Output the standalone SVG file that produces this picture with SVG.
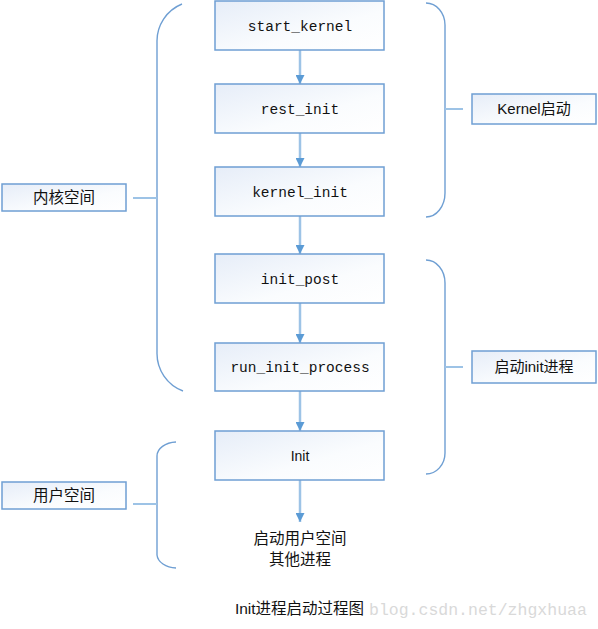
<svg xmlns="http://www.w3.org/2000/svg" width="598" height="629" viewBox="0 0 598 629">
<defs>
<linearGradient id="g" x1="0" y1="0" x2="1" y2="1">
<stop offset="0" stop-color="#e6edf8"/>
<stop offset="0.6" stop-color="#fafcfe"/>
<stop offset="1" stop-color="#ffffff"/>
</linearGradient>
<marker id="ah" viewBox="0 0 10 10" refX="10" refY="5" markerWidth="9" markerHeight="9" markerUnits="userSpaceOnUse" orient="auto">
<path d="M0,0 L10,5 L0,10 z" fill="#5b9bd5"/>
</marker>
<style>
.box{fill:url(#g);stroke:#6f9fd3;stroke-width:1.5}
.mono{font-family:"Liberation Mono","DejaVu Sans Mono",monospace;font-size:14.5px;fill:#111;text-anchor:middle}
.cjk{font-family:"Liberation Sans","Noto Sans CJK SC",sans-serif;font-size:15px;fill:#111;text-anchor:middle}
.arrow{stroke:#9dc3e6;stroke-width:2.5;fill:none}
.stub{stroke:#9dc3e6;stroke-width:2;fill:none}
.brace{stroke:#6f9fd3;stroke-width:1.4;fill:none}
.wm{font-family:"Liberation Mono",monospace;font-size:16.5px;fill:#d9d9d9}
</style>
</defs>
<rect width="598" height="629" fill="#ffffff"/>

<g id="connectors">
<line class="arrow" x1="300" y1="50" x2="300" y2="84" marker-end="url(#ah)"/>
<line class="arrow" x1="300" y1="133" x2="300" y2="167" marker-end="url(#ah)"/>
<line class="arrow" x1="300" y1="216" x2="300" y2="254" marker-end="url(#ah)"/>
<line class="arrow" x1="300" y1="303" x2="300" y2="343" marker-end="url(#ah)"/>
<line class="arrow" x1="300" y1="391" x2="300" y2="431" marker-end="url(#ah)"/>
<line class="arrow" x1="300" y1="480" x2="300" y2="522" marker-end="url(#ah)"/>
<path class="brace" d="M182,4 A40,40 0 0 0 157,42 L157,353 A40,40 0 0 0 183,391"/>
<line class="stub" x1="133" y1="198" x2="157" y2="198"/>
<path class="brace" d="M176,442 A20,14 0 0 0 157,456 L157,555 A20,14 0 0 0 176,568"/>
<line class="stub" x1="133" y1="504" x2="157" y2="504"/>
<path class="brace" d="M426,3 A19,22 0 0 1 445,25 L445,193 A19,24 0 0 1 426,217"/>
<line class="stub" x1="445" y1="109" x2="463" y2="109"/>
<path class="brace" d="M426,260 A19,23 0 0 1 445,283 L445,453 A19,21 0 0 1 426,474"/>
<line class="stub" x1="445" y1="367" x2="463" y2="367"/>
</g>

<g id="start_kernel">
<rect class="box" x="215" y="1" width="169" height="49"/>
<text class="mono" x="300" y="31">start_kernel</text>
</g>
<g id="rest_init">
<rect class="box" x="215" y="84" width="169" height="49"/>
<text class="mono" x="300" y="114">rest_init</text>
</g>
<g id="kernel_init">
<rect class="box" x="215" y="167" width="169" height="49"/>
<text class="mono" x="300" y="197">kernel_init</text>
</g>
<g id="init_post">
<rect class="box" x="215" y="254" width="169" height="49"/>
<text class="mono" x="300" y="284">init_post</text>
</g>
<g id="run_init_process">
<rect class="box" x="215" y="343" width="169" height="48"/>
<text class="mono" x="300" y="372">run_init_process</text>
</g>
<g id="init">
<rect class="box" x="215" y="431" width="169" height="49"/>
<text class="cjk" x="300" y="461" style="font-size:14px">Init</text>
</g>
<g id="user_procs">
<text class="cjk" x="300" y="544" style="font-size:15.5px">启动用户空间</text>
<text class="cjk" x="300" y="565" style="font-size:15.5px">其他进程</text>
</g>

<g id="kernel_space">
<rect class="box" x="2" y="184" width="124" height="27"/>
<text class="cjk" x="64" y="203" style="font-size:15.5px">内核空间</text>
</g>
<g id="user_space">
<rect class="box" x="2" y="482" width="124" height="27"/>
<text class="cjk" x="64" y="501" style="font-size:15.5px">用户空间</text>
</g>
<g id="kernel_boot">
<rect class="box" x="472" y="94" width="124" height="30"/>
<text class="cjk" x="534" y="114">Kernel启动</text>
</g>
<g id="init_boot">
<rect class="box" x="472" y="351" width="124" height="32"/>
<text class="cjk" x="534" y="372">启动init进程</text>
</g>

<g id="caption">
<text class="wm" x="369" y="615">blog.csdn.net/zhgxhuaa</text>
<text class="cjk" x="299.5" y="614" style="font-size:15.5px">Init进程启动过程图</text>
</g>
</svg>
